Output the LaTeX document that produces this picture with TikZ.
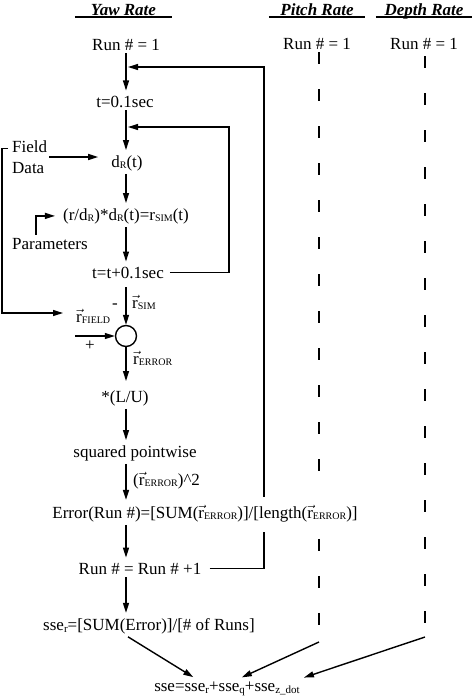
\documentclass[tikz,border=0pt]{standalone}
\usepackage{fontspec}
\setmainfont{Liberation Serif}
\usepackage{amsmath}
\usetikzlibrary{arrows.meta}
\newcommand\sbx[1]{\raisebox{-1.5pt}{\fontsize{10}{10}\selectfont #1}}
\newcommand\lsb[1]{\raisebox{-2.5pt}{\fontsize{11}{11}\selectfont #1}}
\newcommand\myvr{\ensuremath{\vec{\text{r}}}}
\tikzset{
  lbl/.style={inner sep=3pt, anchor=base},
  arr/.style={-{Triangle[length=10pt,width=6pt]}, line width=1.4pt, shorten >=2pt},
  ln/.style={line width=1.4pt},
  dsh/.style={line width=1.4pt, dash pattern=on 12pt off 25pt},
  ttl/.style={font=\fontsize{17}{20}\selectfont\bfseries\itshape, inner sep=0pt, anchor=base},
}
\begin{document}
\begin{tikzpicture}[x=1pt,y=-1pt, font=\fontsize{17}{21}\selectfont]
\fill[white] (0,0) rectangle (474,697);
\useasboundingbox (0,0) rectangle (474,697);

% titles
\node[ttl, minimum width=97pt] (yawT) at (123.5,15) {Yaw Rate};
\node[ttl, minimum width=96pt] (pitT) at (317,15) {Pitch Rate};
\node[ttl, minimum width=96pt] (depT) at (424,15) {Depth Rate};
\foreach \t in {yawT,pitT,depT}
  \draw[ln] ([yshift=-2pt]\t.base west) -- ([yshift=-2pt]\t.base east);

% nodes
\node[lbl] (run1) at (126,50) {Run \# = 1};
\node[lbl] (pr1) at (317,49) {Run \# = 1};
\node[lbl] (dr1) at (424,49) {Run \# = 1};
\node[lbl] (t01) at (125,107) {t=0.1sec};
\node[lbl] (dR) at (127,167) {d\sbx{R}(t)};
\node[align=left, anchor=west, inner sep=2pt] (fd) at (10,157) {Field\\Data};
\node[lbl] (fm) at (126,220) {(r/d\sbx{R})*d\sbx{R}(t)=r\sbx{SIM}(t)};
\node[lbl] (par) at (50,249) {Parameters};
\node[lbl] (tt) at (128,278) {t=t+0.1sec};
\node[circle, draw, line width=1.4pt, minimum size=21pt, inner sep=0pt] (sum) at (126,336) {};
\node[anchor=base west, inner sep=0pt] (rs) at (132,308) {\myvr\sbx{SIM}};
\node[anchor=base, inner sep=0pt] (minus) at (115,308) {-};
\node[anchor=base west, inner sep=0pt] (rf) at (76,322) {\myvr\sbx{FIELD}};
\node[anchor=base, inner sep=0pt] (plus) at (90,350) {+};
\node[anchor=base west, inner sep=0pt] (re) at (133,364) {\myvr\sbx{ERROR}};
\node[lbl] (LU) at (125,402) {*(L/U)};
\node[lbl] (sq) at (135,457) {squared pointwise};
\node[anchor=base west, inner sep=0pt] (re2) at (133,485) {(\myvr\sbx{ERROR})\^{}2};
\node[lbl] (err) at (205,518) {Error(Run \#)=[SUM(\myvr\sbx{ERROR})]/[length(\myvr\sbx{ERROR})]};
\node[lbl] (rn) at (140,574) {Run \# = Run \# +1};
\node[lbl] (sser) at (149,630) {sse\lsb{r}=[SUM(Error)]/[\# of Runs]};
\node[lbl] (sse) at (227,691) {sse=sse\lsb{r}+sse\lsb{q}+sse\lsb{z\_dot}};

% helper coordinates
\coordinate (col) at (126,0);
\coordinate (outer) at (264,67);
\coordinate (inner) at (229,127);
\coordinate (lft) at (2,313);
\coordinate (pend) at (319,642);
\coordinate (dend) at (425,637);
\coordinate (pin) at (75,336);

% main chain
\draw[arr] (run1.south -| col) -- (t01.north -| col);
\draw[arr] (t01.south -| col) -- (dR.north -| col);
\draw[arr] (dR.south -| col) -- (fm.north -| col);
\draw[arr] (fm.south -| col) -- (tt.north -| col);
\draw[arr, shorten <=6pt, shorten >=0pt] (tt.south -| col) -- (sum.north);
\draw[arr, shorten >=0pt] (pin) -- (sum.west);
\draw[arr, shorten >=6pt] (sum.south) -- (LU.north -| col);
\draw[arr] (LU.south -| col) -- (sq.north -| col);
\draw[arr] (sq.south -| col) -- (err.north -| col);
\draw[arr] (err.south -| col) -- (rn.north -| col);
\draw[arr] (rn.south -| col) -- (sser.north -| col);

% loops
\draw[arr] ([xshift=5pt]rn.east) -- (rn.east -| outer) -- ([yshift=-7pt]err.south -| outer)
  ([yshift=5pt]err.north -| outer) -- (outer) -- (outer -| col);
\draw[arr] ([xshift=3pt]tt.east) -- (tt.east -| inner) -- (inner) -- (inner -| col);

% inputs
\draw[arr, shorten >=10pt] (fd.east) -- (fd.east -| dR.west);
\draw[arr, shorten >=13pt] ([xshift=-2pt,yshift=-10pt]fd.north west) -| (lft) -- (lft -| rf.west);
\draw[arr, shorten >=5pt] ([xshift=-14pt]par.north) |- (fm.west);

% dashed columns
\draw[dsh, shorten <=6pt] (pend |- pr1.south) -- ([yshift=6pt]err.north -| pend)
  ([yshift=-8pt]err.south -| pend) -- (pend);
\draw[dsh, shorten <=4pt] (dend |- dr1.south) -- (dend);

% to sse
\draw[arr] ([xshift=-21pt]sser.south) -- ([xshift=-32pt]sse.north);
\draw[arr] (pend) -- ([xshift=13pt]sse.north);
\draw[arr] (dend) -- ([xshift=75pt]sse.north);
\end{tikzpicture}
\end{document}
